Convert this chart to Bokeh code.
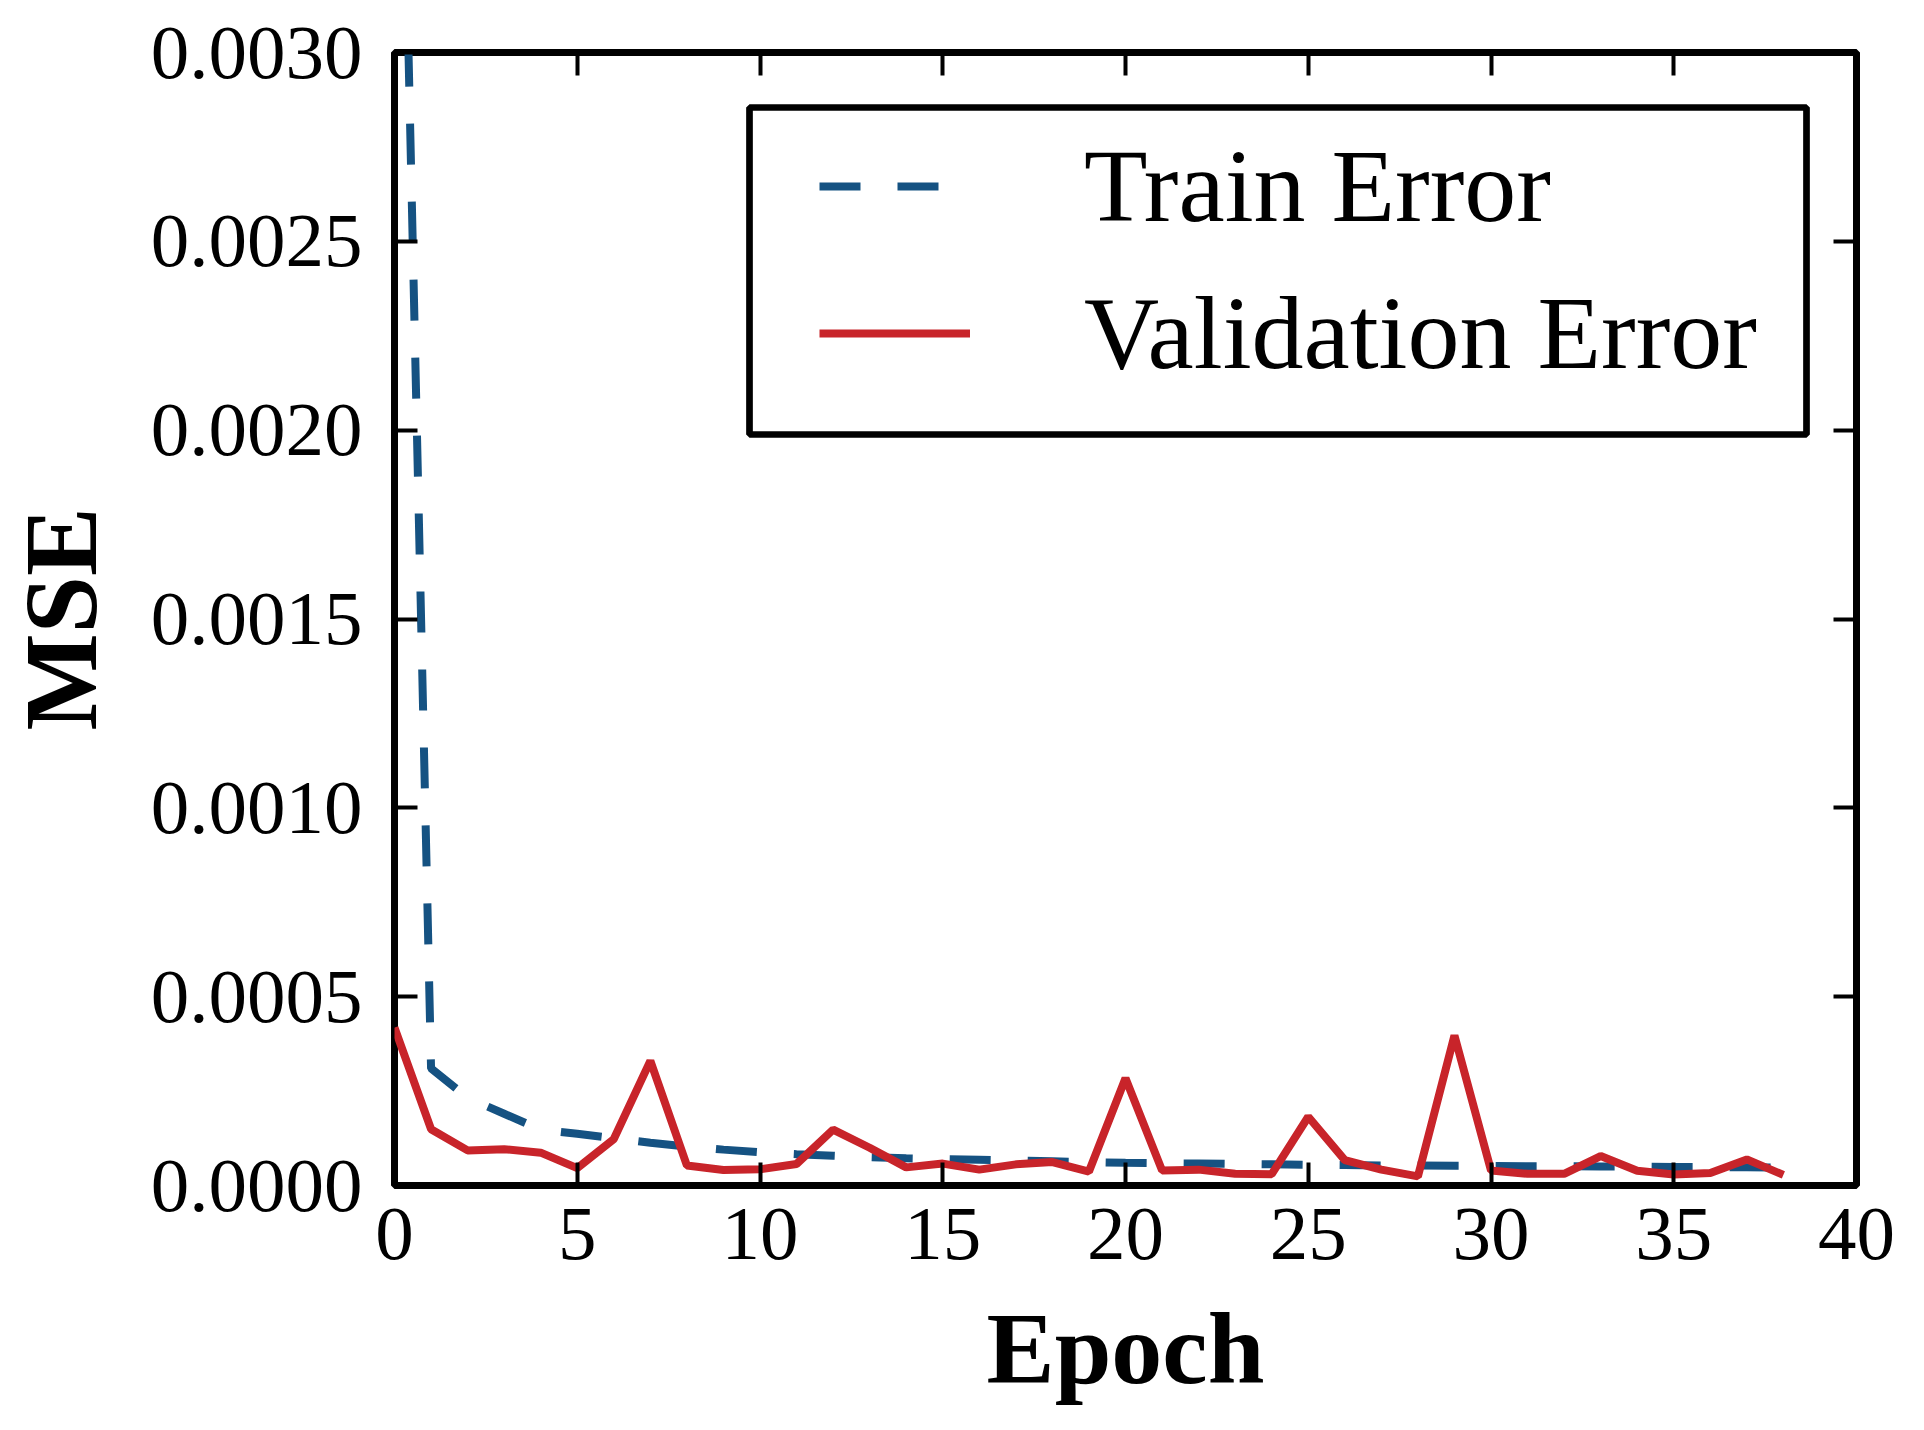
from bokeh.plotting import figure
from bokeh.models import (Range1d, LinearAxis, SingleIntervalTicker, PrintfTickFormatter,
                          CustomJSTickFormatter, Legend, LegendItem, ColumnDataSource, BoxAnnotation)
from bokeh.embed import file_html
from bokeh.resources import INLINE

# ---------------- data ----------------
epochs = list(range(39))
train_error = [0.00467, 0.00031, 0.000232, 0.00019, 0.000148, 0.000137, 0.000125, 0.000113,
               0.000103, 0.000095, 0.000088, 0.000083, 0.000079, 0.000075, 0.000072, 0.00007,
               0.000068, 0.000066, 0.000064, 0.000062, 0.00006, 0.000059, 0.000058, 0.000057,
               0.000056, 0.000055, 0.000054, 0.000053, 0.000053, 0.000052, 0.000052, 0.000051,
               0.000051, 0.00005, 0.00005, 0.000049, 0.000049, 0.000048, 0.000047]
validation_error = [0.000418, 0.000149, 0.000093, 0.000096, 0.000087, 0.000046, 0.000123, 0.00033,
                    0.000053, 0.000041, 0.000043, 0.000057, 0.000148, 0.0001, 0.000048, 0.000058,
                    0.000042, 0.000056, 0.000062, 0.000037, 0.000284, 0.00004, 0.000042, 0.000031,
                    0.00003, 0.000182, 0.000067, 0.000042, 0.000024, 0.000397, 0.00004, 0.000031,
                    0.000031, 0.000078, 0.000039, 0.000029, 0.000033, 0.000069, 0.000028]
series_labels = ["Train Error", "Validation Error"]
x_label = "Epoch"
y_label = "MSE"

BLUE = "#155282"
RED = "#c8242a"
FONT = "Liberation Serif"

p = figure(frame_width=1462, frame_height=1133,
           min_border_left=387, min_border_right=59, min_border_top=52, min_border_bottom=229,
           x_range=Range1d(0, 40), y_range=Range1d(0, 0.003),
           output_backend="svg", toolbar_location=None, x_axis_location=None, y_axis_location=None)
p.background_fill_color = "white"
p.border_fill_color = "white"
p.outline_line_color = "black"
p.outline_line_width = 7
p.outline_line_alpha = 1.0
p.grid.visible = False

src = ColumnDataSource(dict(x=epochs, train=train_error, val=validation_error))
r_train = p.line("x", "train", source=src, line_color=BLUE, line_width=8, line_dash="41 37")
r_val = p.line("x", "val", source=src, line_color=RED, line_width=8)

xt = SingleIntervalTicker(interval=5)
yt = SingleIntervalTicker(interval=0.0005)

def style(ax, show_labels):
    ax.axis_line_color = None
    ax.major_tick_in = 23
    ax.major_tick_out = 0
    ax.major_tick_line_width = 4
    ax.major_tick_line_color = "black"
    ax.minor_tick_line_color = None
    ax.major_label_text_font = FONT
    ax.major_label_text_color = "black"
    if show_labels:
        ax.major_label_text_font_size = "77px"
    else:
        ax.formatter = CustomJSTickFormatter(code="return '';")
        ax.major_label_text_font_size = "10px"
        ax.major_label_standoff = 0

xb = LinearAxis(ticker=xt, axis_label=x_label)
style(xb, True)
xb.major_label_standoff = 19
xb.axis_label_standoff = 30
xb.axis_label_text_font = FONT
xb.axis_label_text_font_style = "bold"
xb.axis_label_text_font_size = "102px"
xb.axis_label_text_color = "black"
p.add_layout(xb, "below")

yl = LinearAxis(ticker=yt, axis_label=y_label, formatter=PrintfTickFormatter(format="%.4f"))
style(yl, True)
yl.major_label_standoff = 28
yl.axis_label_standoff = 30
yl.axis_label_text_font = FONT
yl.axis_label_text_font_style = "bold"
yl.axis_label_text_font_size = "103px"
yl.axis_label_text_color = "black"
p.add_layout(yl, "left")

xa = LinearAxis(ticker=xt)
style(xa, False)
p.add_layout(xa, "above")
yr = LinearAxis(ticker=yt)
style(yr, False)
p.add_layout(yr, "right")

# legend frame (canvas pixel units)
legend_frame = BoxAnnotation(left=749, right=1806, top=107, bottom=434,
                             left_units="canvas", right_units="canvas",
                             top_units="canvas", bottom_units="canvas",
                             fill_color="white", fill_alpha=1.0,
                             line_color="black", line_alpha=1.0, line_width=6.7)
p.add_layout(legend_frame)

legend = Legend(items=[LegendItem(label=series_labels[0], renderers=[r_train]),
                       LegendItem(label=series_labels[1], renderers=[r_val])],
                location=(425, 793))
legend.label_text_font = FONT
legend.label_text_font_size = "104px"
legend.label_text_color = "black"
legend.glyph_height = 20
legend.glyph_width = 151
legend.label_standoff = 114
legend.padding = 10
legend.spacing = 28
legend.border_line_color = None
legend.background_fill_alpha = 0.0
legend.margin = 0
p.add_layout(legend, "center")

open("out.html", "w").write(file_html(p, INLINE))
